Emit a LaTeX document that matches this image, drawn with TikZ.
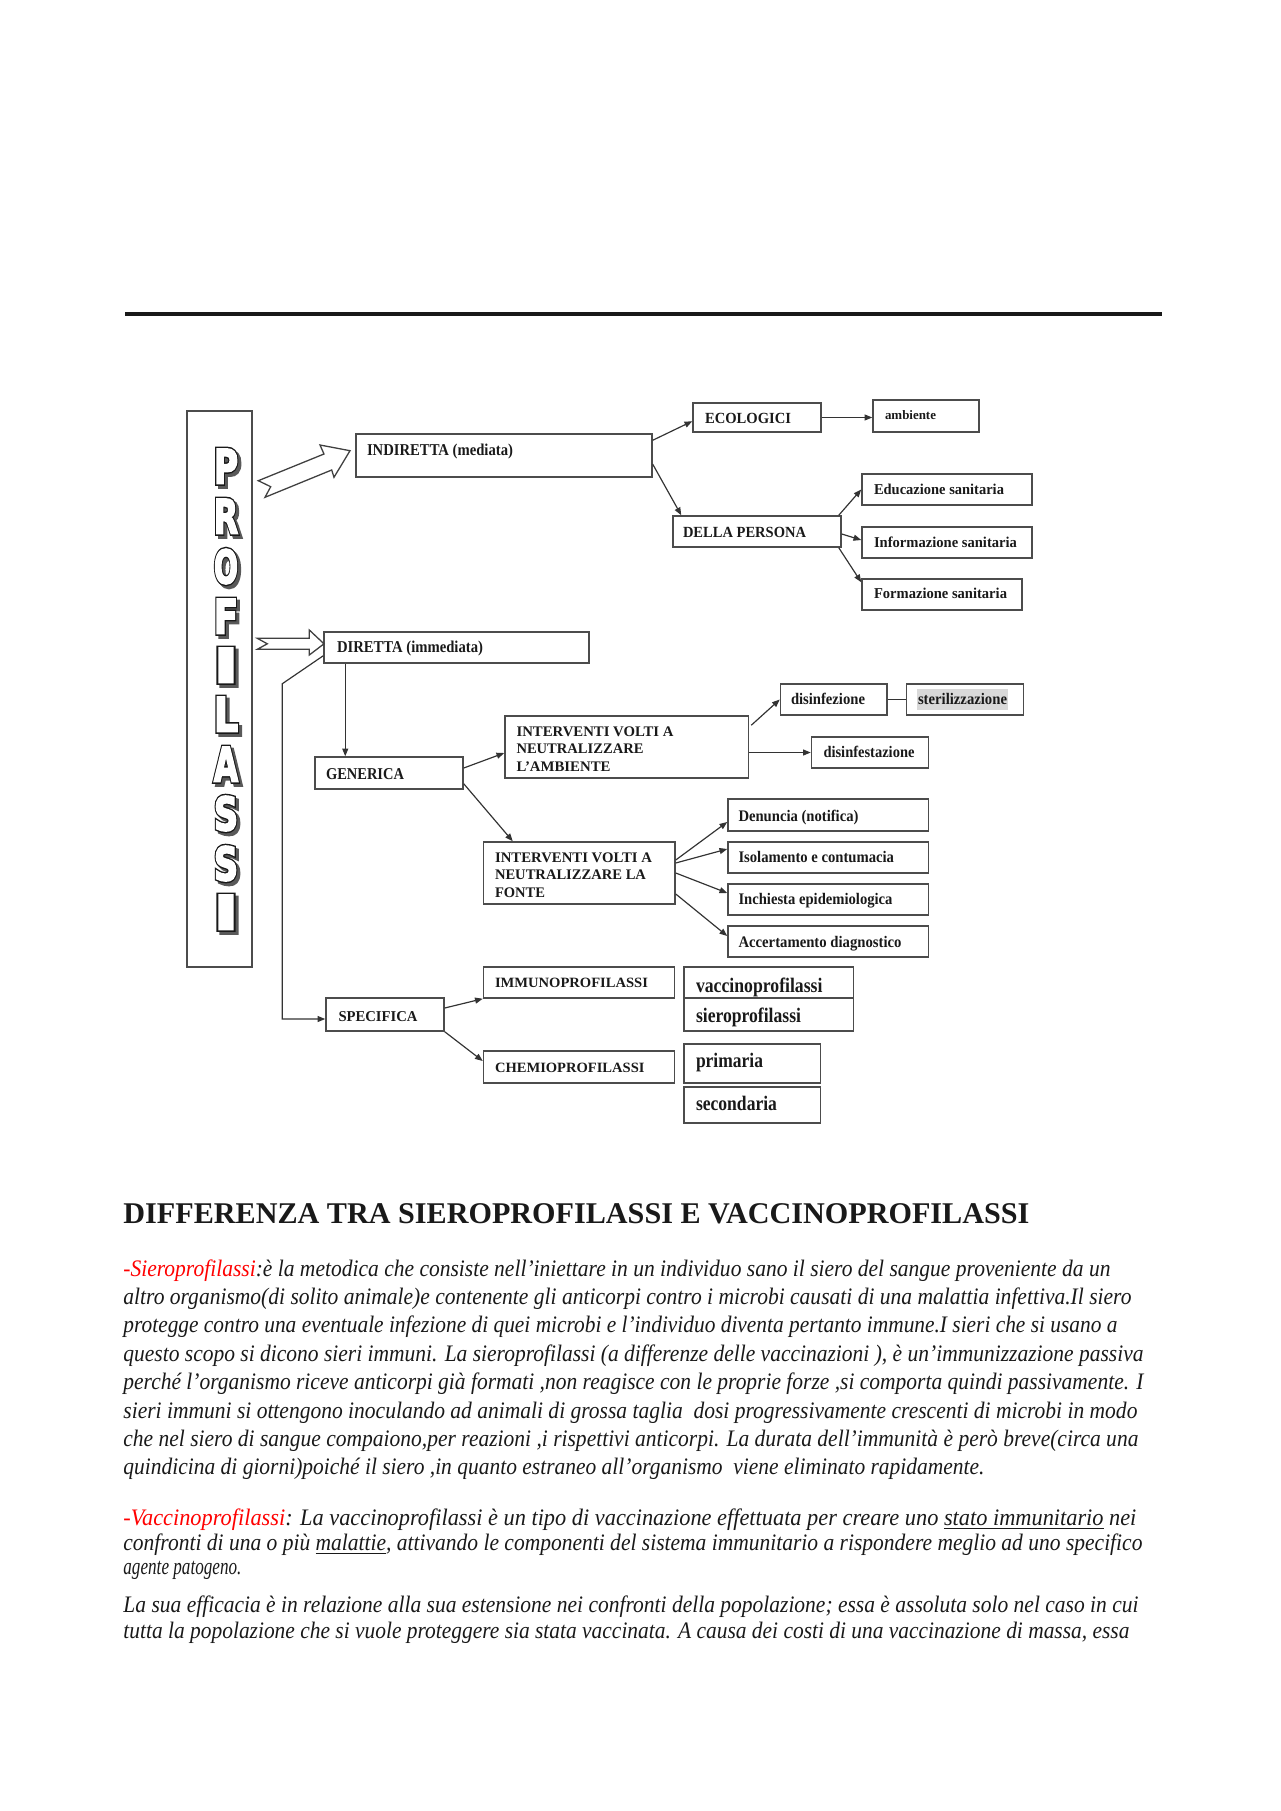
\documentclass[tikz,border=0pt]{standalone}
\usepackage{fontspec}
\setmainfont{Liberation Serif}
\newfontfamily\ltrfont{DejaVu Sans}
\usepackage{graphicx}
\usetikzlibrary{arrows.meta,calc,fit}
\newlength\pxu \setlength\pxu{0.465059pt}
\newcommand\tx[2]{\resizebox{#1\pxu}{\height}{#2}}
\newcommand\bx[5]{\path (#2,#3) coordinate (#1-a) (#4,#5) coordinate (#1-b);
  \node[box, fit=(#1-a)(#1-b)] (#1) {};}
\newcommand\glyph[2]{\resizebox{24\pxu}{34\pxu}{\special{pdf:literal direct #2}\fontsize{22}{22}\ltrfont\bfseries #1\special{pdf:literal direct 0 Tr}}}
\newcommand\profletter[3]{%
  \node[ltr, text=black!65] (#1-sh) at (217,#2+5.2) {\glyph{#3}{2 Tr 2.4 w}};
  \node[ltr, text=black!90] (#1-ol) at (214,#2+2.2) {\glyph{#3}{2 Tr 2.4 w}};
  \node[ltr, text=white] (#1) at (214,#2+2.2) {\glyph{#3}{2 Tr 1.0 w}};}
\begin{document}
\begin{tikzpicture}[x=0.465059pt,y=-0.465059pt,
  box/.style={draw=black!70, line width=0.7pt, inner sep=0pt},
  lbl/.style={anchor=base west, inner sep=0pt, outer sep=0pt, text=black!90},
  fs/.style={font=\fontsize{#1}{#1}\selectfont\bfseries},
  bodyt/.style={anchor=base west, inner sep=0pt, font=\fontsize{11}{13}\selectfont\itshape, text=black!90},
  ltr/.style={anchor=north west, inner sep=0pt, outer sep=0pt},
  conn/.style={draw=black!80, line width=0.55pt, -{Triangle[length=3.6pt,width=2.8pt]}},
  plain/.style={draw=black!80, line width=0.55pt},
  hollow/.style={draw=black!75, fill=white, line width=0.6pt, line join=miter},
  rule/.style={draw=black!90, line width=1.9pt}]
\useasboundingbox (0,0) rectangle (1280,1811);
\draw[rule] (125,314) -- (1162,314);

% boxes
\bx{PROF}{187}{411}{252}{967}
\bx{IND}{356}{434}{652}{477}
\bx{ECO}{693}{403}{821}{432}
\bx{AMB}{873}{400}{979}{432}
\bx{DP}{673}{516}{841}{547}
\bx{EDU}{862}{474}{1032}{505}
\bx{INF}{862}{527}{1032}{558}
\bx{FOR}{862}{579}{1022}{610}
\bx{DIR}{324}{632}{589}{663}
\bx{GEN}{315}{757}{463}{789}
\bx{IAMB}{505}{716}{748.5}{778}
\bx{DISF}{780.5}{684}{887}{715}
\bx{STER}{906.5}{684}{1023.5}{715}
\bx{DIST}{811.5}{737}{928.5}{768}
\bx{IFON}{483.5}{842}{675}{904}
\bx{DEN}{728}{799}{928.5}{831}
\bx{ISO}{728}{842}{928.5}{873}
\bx{INC}{728}{884}{928.5}{915}
\bx{ACC}{728}{926}{928.5}{957}
\bx{IMM}{483.5}{967}{674.5}{998}
\bx{VAC}{684}{967}{853.5}{998}
\bx{SIE}{684}{998}{853.5}{1031}
\bx{SPE}{326}{998}{444}{1031}
\bx{CHE}{483.5}{1051}{674.5}{1083}
\bx{PRI}{684}{1044}{820.5}{1083}
\bx{SEC}{684}{1087}{820.5}{1123}

% PROFILASSI letters
\profletter{L1}{447}{P}
\profletter{L2}{497}{R}
\profletter{L3}{547}{O}
\profletter{L4}{597}{F}
\profletter{L5}{646}{I}
\profletter{L6}{695}{L}
\profletter{L7}{745}{A}
\profletter{L8}{794}{S}
\profletter{L9}{844}{S}
\profletter{L10}{893}{I}

% hollow arrows
\draw[hollow] (258.3,480.7) -- (324,454) -- (320,445) -- (350,450.7) -- (334,477.3) -- (331.7,470) -- (265,497.3) -- (270.7,486.7) -- cycle;
\draw[hollow] (257.3,638.3) -- (309.3,638.3) -- (309.3,630) -- (324,643.8) -- (309.3,655) -- (309.3,649.3) -- (257.3,649.3) -- (267.3,643.8) -- cycle;

% labels
\node[lbl,fs=7.7] (IND-t) at (367,455) {\tx{146}{INDIRETTA (mediata)}};
\node[lbl,fs=7.7] (DIR-t) at (337,652) {\tx{146}{DIRETTA (immediata)}};
\node[lbl,fs=7.2] (ECO-t) at (705,423) {\tx{86}{ECOLOGICI}};
\node[lbl,fs=6] (AMB-t) at (885,419) {\tx{51}{ambiente}};
\node[lbl,fs=7.2] (DP-t) at (683,537) {\tx{123}{DELLA PERSONA}};
\node[lbl,fs=7] (EDU-t) at (874,494) {\tx{130}{Educazione sanitaria}};
\node[lbl,fs=7] (INF-t) at (874,547) {\tx{143}{Informazione sanitaria}};
\node[lbl,fs=7] (FOR-t) at (874,598) {\tx{133}{Formazione sanitaria}};
\node[lbl,fs=7.7] (GEN-t) at (326,779) {\tx{78}{GENERICA}};
\node[lbl,fs=6.8] (IAMB-t1) at (516.5,736) {\tx{157}{INTERVENTI VOLTI A}};
\node[lbl,fs=6.8] (IAMB-t2) at (516.5,753) {\tx{127}{NEUTRALIZZARE}};
\node[lbl,fs=6.8] (IAMB-t3) at (516.5,771) {\tx{94}{L’AMBIENTE}};
\node[lbl,fs=6.8] (IFON-t1) at (495,862) {\tx{157}{INTERVENTI VOLTI A}};
\node[lbl,fs=6.8] (IFON-t2) at (495,879) {\tx{151}{NEUTRALIZZARE LA}};
\node[lbl,fs=6.8] (IFON-t3) at (495,897) {\tx{50}{FONTE}};
\node[lbl,fs=7.5] (DISF-t) at (791,704) {\tx{74}{disinfezione}};
\fill[black!15] (917,689) rectangle (1008,710);
\node[lbl,fs=7.5] (STER-t) at (918,704) {\tx{89}{sterilizzazione}};
\node[lbl,fs=7.5] (DIST-t) at (823.5,757) {\tx{91}{disinfestazione}};
\node[lbl,fs=7.5] (DEN-t) at (738.5,821) {\tx{120}{Denuncia (notifica)}};
\node[lbl,fs=7.5] (ISO-t) at (738.5,862) {\tx{155.5}{Isolamento e contumacia}};
\node[lbl,fs=7.5] (INC-t) at (738.5,904) {\tx{154}{Inchiesta epidemiologica}};
\node[lbl,fs=7.5] (ACC-t) at (738.5,947) {\tx{163}{Accertamento diagnostico}};
\node[lbl,fs=6.6] (IMM-t) at (495,987) {\tx{153}{IMMUNOPROFILASSI}};
\node[lbl,fs=9.6] (VAC-t) at (696,992) {\tx{126.5}{vaccinoprofilassi}};
\node[lbl,fs=9.6] (SIE-t) at (696,1022) {\tx{105}{sieroprofilassi}};
\node[lbl,fs=7] (SPE-t) at (338.5,1021) {\tx{79}{SPECIFICA}};
\node[lbl,fs=6.6] (CHE-t) at (495,1072) {\tx{149.5}{CHEMIOPROFILASSI}};
\node[lbl,fs=9.6] (PRI-t) at (696,1067) {\tx{67}{primaria}};
\node[lbl,fs=9.6] (SEC-t) at (696,1110) {\tx{81}{secondaria}};

% connectors
\draw[conn] ($(IND.north east)+(0,7)$) -- ($(ECO.north west)+(0,19)$);
\draw[conn] ($(IND.north east)+(0,31)$) -- ($(DP.north west)+(9,0)$);
\draw[conn] (ECO.east) -- (ECO.east -| AMB.west);
\draw[conn] ($(DP.north east)+(-3,0)$) -- (EDU.west);
\draw[conn] ($(DP.east)+(0,2.5)$) -- ($(INF.west)+(0,-2.5)$);
\draw[conn] ($(DP.south east)+(-3,0)$) -- ($(FOR.north west)+(0,4)$);
\coordinate (dg) at ($(DIR.south west)+(22,0)$);
\draw[conn] (dg) -- (dg |- GEN.north);
\coordinate (ds) at ($(DIR.south west)+(0,-8)$);
\coordinate (dbend) at ($(DIR.south west)+(-41,20)$);
\draw[conn] (ds) -- (dbend) |- ($(SPE.west)+(0,4.5)$);
\draw[conn] ($(GEN.east)+(0,-5)$) -- ($(IAMB.west)+(0,6)$);
\draw[conn] ($(GEN.south east)+(0,-6)$) -- ($(IFON.north west)+(30,0)$);
\draw[conn] ($(IAMB.north east)+(2,10)$) -- (DISF.west);
\draw[conn] (IAMB.east |- DIST.west) -- (DIST.west);
\draw[plain] (DISF.east) -- (STER.west);
\draw[conn] ($(IFON.east)+(0,-13)$) -- ($(DEN.west)+(0,7)$);
\draw[conn] ($(IFON.east)+(0,-10)$) -- ($(ISO.west)+(0,-8.5)$);
\draw[conn] (IFON.east) -- ($(INC.west)+(0,-6.5)$);
\draw[conn] ($(IFON.east)+(0,21)$) -- ($(ACC.west)+(0,-5.5)$);
\draw[conn] ($(SPE.east)+(0,-6.5)$) -- (IMM.south west);
\draw[conn] (SPE.south east) -- ($(CHE.west)+(0,-6)$);

% heading and text
\node[anchor=base west, inner sep=0pt, font=\fontsize{14}{16}\selectfont\bfseries, text=black!90] (head) at (123,1223) {\tx{906}{DIFFERENZA TRA SIEROPROFILASSI E VACCINOPROFILASSI}};
\node[bodyt] (p1a) at (123,1276) {\tx{987}{\textcolor{red}{-Sieroprofilassi}:è la metodica che consiste nell’iniettare in un individuo sano il siero del sangue proveniente da un}};
\node[bodyt] (p1b) at (123,1304.4) {\tx{1008}{altro organismo(di solito animale)e contenente gli anticorpi contro i microbi causati di una malattia infettiva.Il siero}};
\node[bodyt] (p1c) at (123,1332.8) {\tx{994}{protegge contro una eventuale infezione di quei microbi e l’individuo diventa pertanto immune.I sieri che si usano a}};
\node[bodyt] (p1d) at (123,1361.2) {\tx{1020}{questo scopo si dicono sieri immuni. La sieroprofilassi (a differenze delle vaccinazioni ), è un’immunizzazione passiva}};
\node[bodyt] (p1e) at (123,1389.6) {\tx{1020}{perché l’organismo riceve anticorpi già formati ,non reagisce con le proprie forze ,si comporta quindi passivamente. I}};
\node[bodyt] (p1f) at (123,1418) {\tx{1014}{sieri immuni si ottengono inoculando ad animali di grossa taglia\ \ dosi progressivamente crescenti di microbi in modo}};
\node[bodyt] (p1g) at (123,1446.4) {\tx{1015}{che nel siero di sangue compaiono,per reazioni ,i rispettivi anticorpi. La durata dell’immunità è però breve(circa una}};
\node[bodyt] (p1h) at (123,1474.8) {\tx{861}{quindicina di giorni)poiché il siero ,in quanto estraneo all’organismo\ \ viene eliminato rapidamente.}};
\node[bodyt] (p2a) at (123,1525) {\tx{1013}{\textcolor{red}{-Vaccinoprofilassi}: La vaccinoprofilassi è un tipo di vaccinazione effettuata per creare uno \underline{stato immunitario} nei}};
\node[bodyt] (p2b) at (123,1550) {\tx{1019}{confronti di una o più \underline{malattie}, attivando le componenti del sistema immunitario a rispondere meglio ad uno specifico}};
\node[bodyt] (p2c) at (123,1574) {\tx{118}{agente patogeno.}};
\node[bodyt] (p3a) at (123,1612) {\tx{1015}{La sua efficacia è in relazione alla sua estensione nei confronti della popolazione; essa è assoluta solo nel caso in cui}};
\node[bodyt] (p3b) at (123,1638) {\tx{1006}{tutta la popolazione che si vuole proteggere sia stata vaccinata. A causa dei costi di una vaccinazione di massa, essa}};
\end{tikzpicture}
\end{document}
